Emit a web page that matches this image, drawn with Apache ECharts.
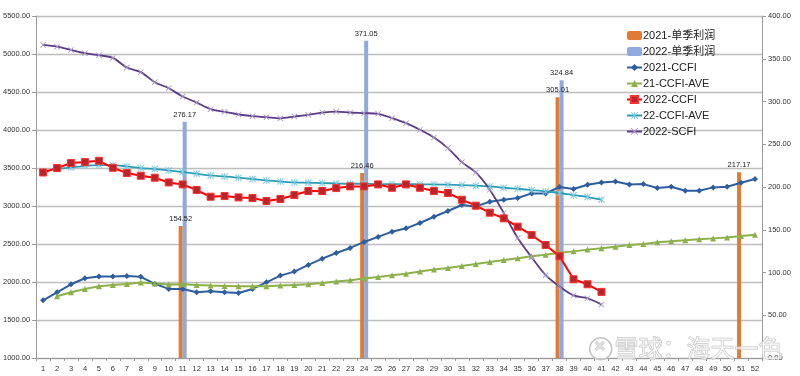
<!DOCTYPE html>
<html><head><meta charset="utf-8">
<script src="https://cdn.jsdelivr.net/npm/echarts@6/dist/echarts.min.js"></script>
<style>html,body{margin:0;padding:0;background:#fff}#c{width:800px;height:376px}</style>
</head><body><div id="c"></div>
<script>
var categories = [];
for (var i = 1; i <= 52; i++) categories.push(String(i));

var leftTicks = [1000, 5500, 500];
var rightTicks = [0, 400, 50];

var profit2021 = [null,null,null,null,null,null,null,null,null,null,154.52,null,null,null,null,null,null,null,null,null,null,null,null,216.46,null,null,null,null,null,null,null,null,null,null,null,null,null,305.01,null,null,null,null,null,null,null,null,null,null,null,null,217.17,null];
var profit2022 = [null,null,null,null,null,null,null,null,null,null,276.17,null,null,null,null,null,null,null,null,null,null,null,null,371.05,null,null,null,null,null,null,null,null,null,null,null,null,null,324.84,null,null,null,null,null,null,null,null,null,null,null,null,null,null];

var ccfi2021 = [1759,1865,1970,2049,2071,2071,2080,2068,1975,1909,1909,1865,1878,1865,1856,1909,1996,2084,2137,2225,2307,2382,2448,2527,2593,2662,2706,2776,2859,2934,3013,2995,3056,3083,3105,3166,3166,3250,3223,3280,3310,3323,3284,3288,3236,3253,3201,3201,3245,3253,3306,3355];
var ccfiAve2021 = [null,1812,1865,1909,1943,1962,1975,1992,1979,1966,1970,1962,1953,1949,1943,1943,1943,1953,1962,1970,1988,2005,2022,2045,2067,2088,2110,2137,2163,2185,2211,2238,2264,2290,2311,2338,2358,2385,2403,2426,2443,2465,2487,2500,2522,2535,2548,2561,2574,2587,2606,2623];
var ccfi2022 = [3441,3499,3565,3578,3595,3503,3433,3398,3372,3310,3284,3210,3122,3131,3113,3105,3066,3092,3144,3197,3197,3236,3258,3258,3284,3240,3284,3240,3197,3171,3083,3004,2912,2837,2728,2619,2487,2338,2036,1970,1870];
var ccfiAve2022 = [null,3486,3507,3529,3538,3538,3520,3499,3486,3468,3446,3424,3402,3389,3372,3355,3336,3323,3310,3306,3302,3297,3293,3293,3288,3288,3288,3284,3284,3280,3275,3267,3258,3240,3227,3210,3192,3171,3142,3118,3083];
var scfi2022 = [5119,5097,5054,5010,4984,4949,4822,4761,4629,4550,4440,4361,4274,4239,4204,4182,4169,4154,4177,4200,4230,4243,4230,4222,4213,4156,4090,4003,3901,3762,3578,3441,3214,2908,2579,2325,2090,1940,1823,1786,1703];

var legendNames = ['2021-单季利润','2022-单季利润','2021-CCFI','21-CCFI-AVE','2022-CCFI','22-CCFI-AVE','2022-SCFI'];

var xSym = 'path://M0,1L1,0L5,4L9,0L10,1L6,5L10,9L9,10L5,6L1,10L0,9L4,5Z';
var starSym = 'path://M0,1L1,0L5,4L9,0L10,1L6,5L10,9L9,10L5,6L1,10L0,9L4,5ZM4.4,0L5.6,0L5.6,10L4.4,10Z';

var font = 'Liberation Sans, Arial, sans-serif';
var chart = echarts.init(document.getElementById('c'), null, {renderer: 'canvas'});

function barLabel() {
  return {show: true, position: 'top', distance: 3, fontSize: 7.5, color: '#222', fontFamily: font,
    formatter: function (p) { return p.value == null ? '' : Number(p.value).toFixed(2); }};
}

chart.setOption({
  animation: false,
  backgroundColor: '#fff',
  grid: {left: 34, right: 38, top: 16, bottom: 18, containLabel: false},
  legend: {
    orient: 'vertical', left: 621, top: 25, itemGap: 5, itemWidth: 15, itemHeight: 9,
    data: legendNames,
    textStyle: {fontSize: 11, color: '#222', fontFamily: 'Liberation Sans, Noto Sans CJK SC, sans-serif', padding: [0,0,0,-4]}
  },
  xAxis: {
    type: 'category', data: categories, boundaryGap: true,
    axisLine: {lineStyle: {color: '#9a9a9a', width: 1}},
    axisTick: {show: true, length: 3, lineStyle: {color: '#9a9a9a'}},
    axisLabel: {fontSize: 7.5, color: '#333', margin: 7, interval: 0, fontFamily: font},
    splitLine: {show: false}
  },
  yAxis: [{
    type: 'value', min: leftTicks[0], max: leftTicks[1], interval: leftTicks[2],
    axisLine: {show: true, lineStyle: {color: '#9a9a9a'}},
    axisTick: {show: true, length: 4, lineStyle: {color: '#9a9a9a'}},
    axisLabel: {fontSize: 7.5, color: '#333', margin: 6, fontFamily: font, formatter: function (v) { return v.toFixed(2); }},
    splitLine: {show: true, lineStyle: {color: '#bdbdbd', width: 1.3}}
  }, {
    type: 'value', min: rightTicks[0], max: rightTicks[1], interval: rightTicks[2], position: 'right',
    axisLine: {show: true, lineStyle: {color: '#9a9a9a'}},
    axisTick: {show: true, length: 4, lineStyle: {color: '#9a9a9a'}},
    axisLabel: {fontSize: 7.5, color: '#333', margin: 6, fontFamily: font, formatter: function (v) { return v.toFixed(2); }},
    splitLine: {show: false}
  }],
  series: [
    {name: legendNames[0], type: 'bar', yAxisIndex: 1, data: profit2021, barWidth: 4, barGap: '0%',
      itemStyle: {color: '#E07B34'}, label: barLabel(), z: 1},
    {name: legendNames[1], type: 'bar', yAxisIndex: 1, data: profit2022, barWidth: 4, barGap: '0%',
      itemStyle: {color: '#8FAADC'}, label: barLabel(), z: 1},
    {name: legendNames[2], type: 'line', yAxisIndex: 0, data: ccfi2021, symbol: 'diamond', symbolSize: 6,
      lineStyle: {color: '#2F5E9E', width: 2}, itemStyle: {color: '#2F5E9E'}, z: 3},
    {name: legendNames[3], type: 'line', yAxisIndex: 0, data: ccfiAve2021, symbol: 'triangle', symbolSize: 6,
      lineStyle: {color: '#8DB04B', width: 2}, itemStyle: {color: '#8DB04B'}, z: 3},
    {name: legendNames[4], type: 'line', yAxisIndex: 0, data: ccfi2022, symbol: 'rect', symbolSize: 7,
      lineStyle: {color: '#FF0000', width: 2}, itemStyle: {color: '#B8262C', borderColor: '#FF3030', borderWidth: 1}, z: 4},
    {name: legendNames[5], type: 'line', yAxisIndex: 0, data: ccfiAve2022, symbol: starSym, symbolSize: 7, smooth: 0.3,
      lineStyle: {color: '#2C9DB5', width: 1.8}, itemStyle: {color: '#7ECBE0'}, z: 3},
    {name: legendNames[6], type: 'line', yAxisIndex: 0, data: scfi2022, symbol: xSym, symbolSize: 6, smooth: 0.3,
      lineStyle: {color: '#5A3C87', width: 1.8}, itemStyle: {color: '#A898C4'}, z: 3}
  ],
  graphic: [
    {type: 'circle', left: 589, top: 337, shape: {r: 11}, style: {fill: 'rgba(255,255,255,0.5)', stroke: '#c4c4c4', lineWidth: 1.5}, z: 100},
    {type: 'text', left: 593, top: 340, style: {text: '✕', font: 'bold 14px sans-serif', fill: 'rgba(255,255,255,0.5)', stroke: '#c4c4c4', lineWidth: 1}, z: 100},
    {type: 'text', left: 614, top: 335, style: {text: '雪球：海天一色', font: '24px "Noto Sans CJK SC", sans-serif', fill: 'rgba(255,255,255,0.55)', stroke: '#c4c4c4', lineWidth: 1}, z: 100}
  ]
});
</script></body></html>
